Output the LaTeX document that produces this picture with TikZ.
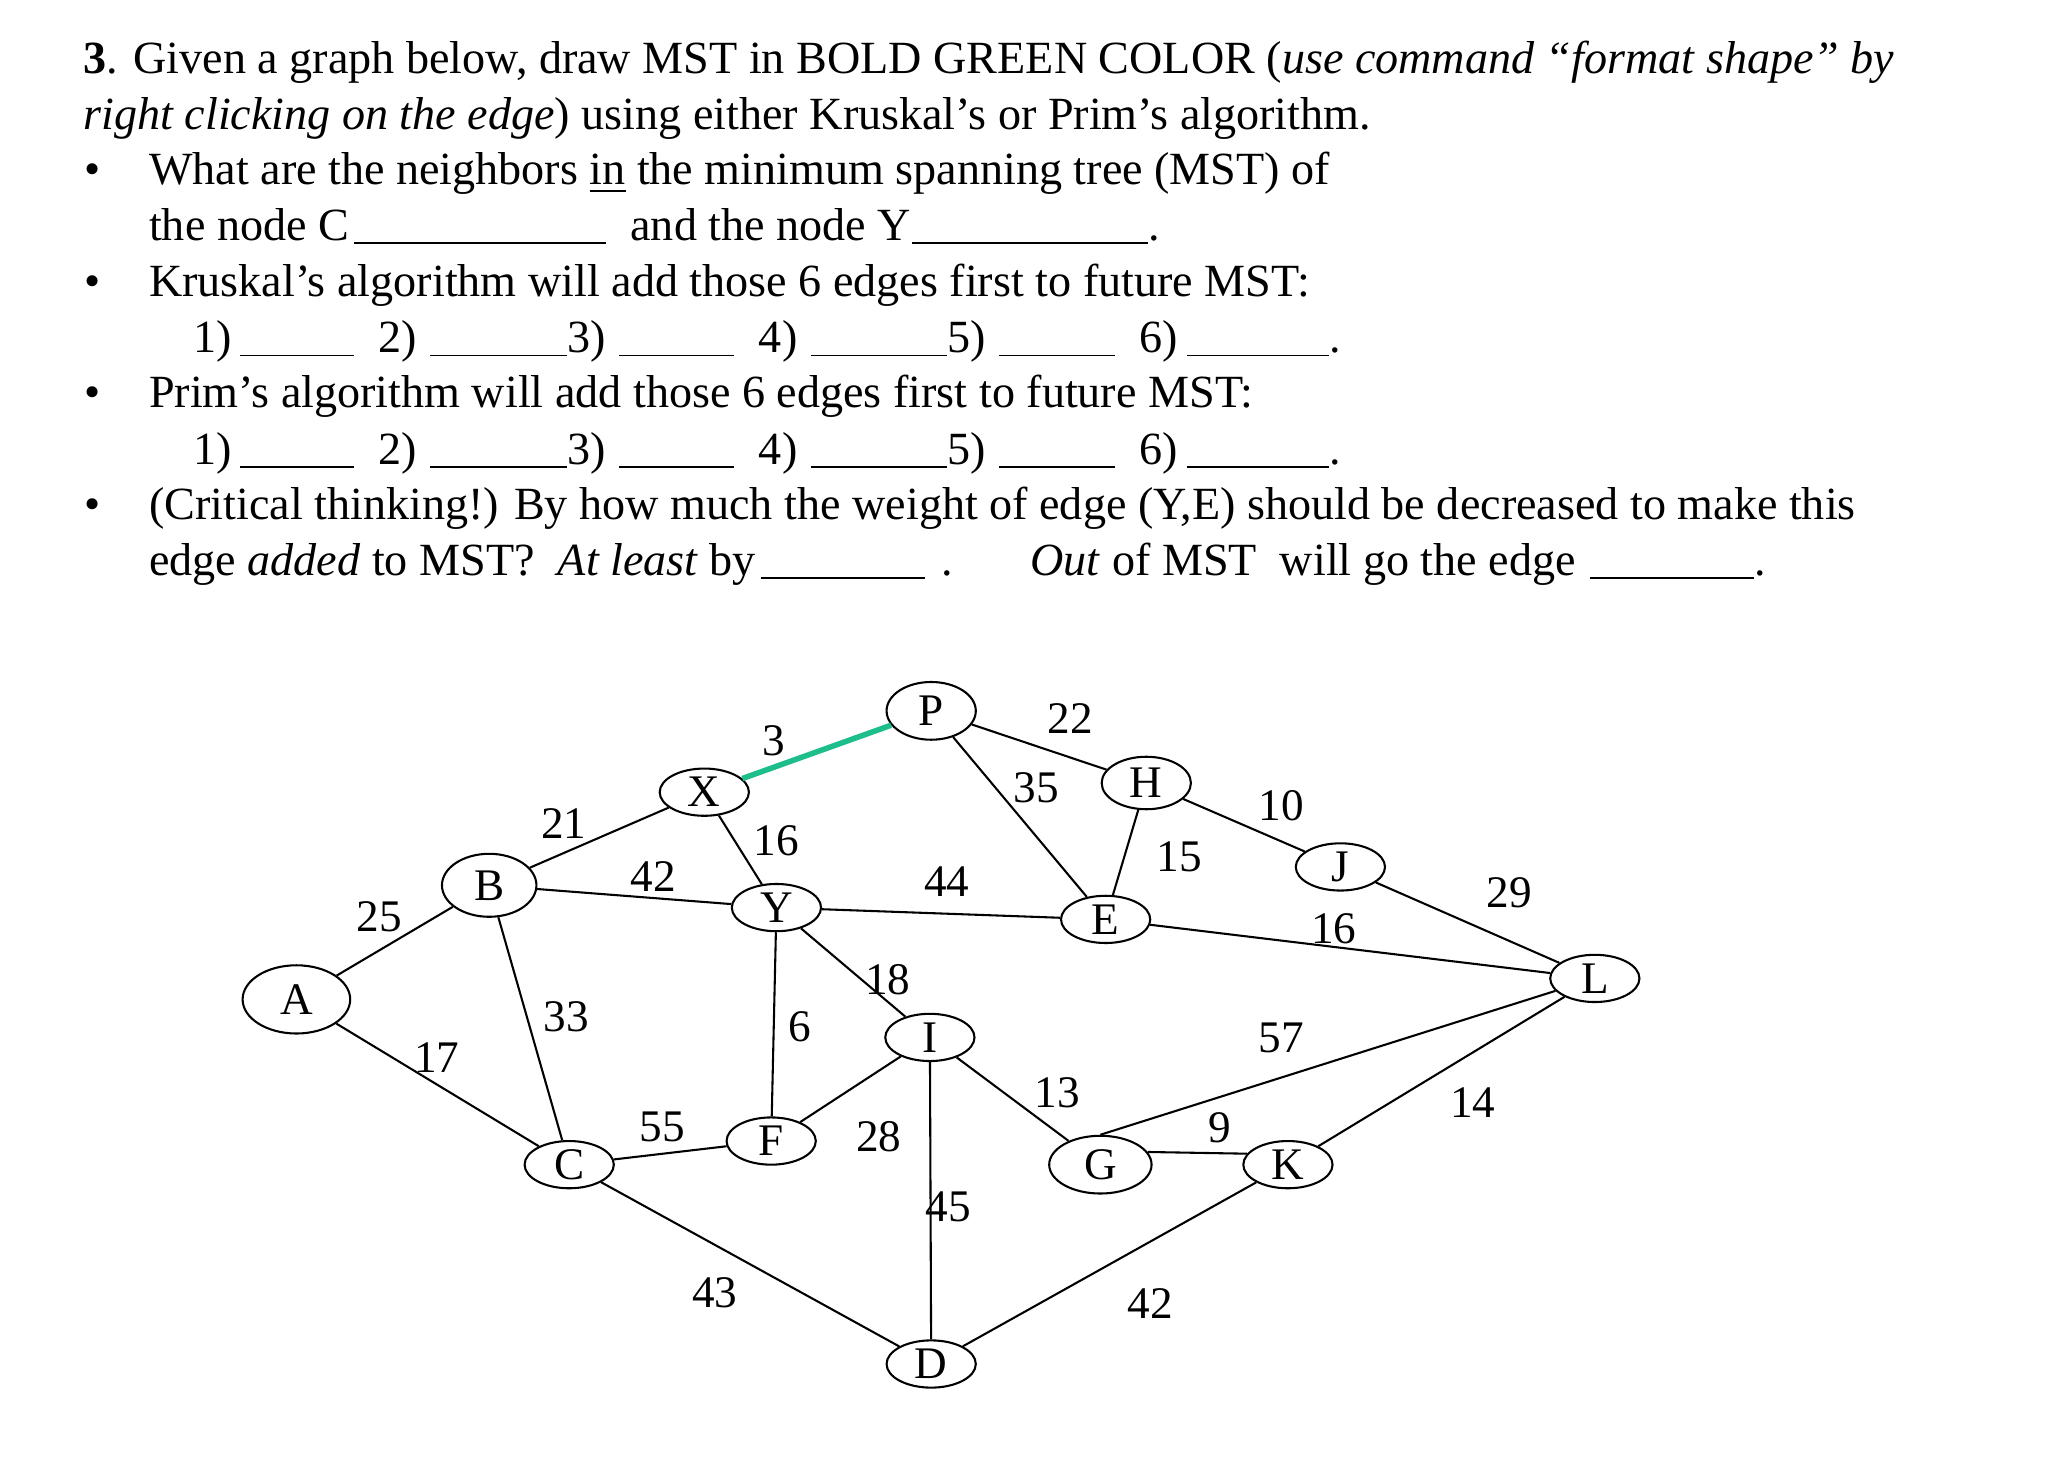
\documentclass[tikz,border=0pt]{standalone}
\usepackage{fontspec}
\setmainfont{Liberation Serif}
\usetikzlibrary{shapes.geometric}
\begin{document}
\begin{tikzpicture}[x=0.01cm,y=-0.01cm,
  txt/.style={anchor=base west,inner sep=0,font=\fontsize{10}{12}\selectfont},
  vtx/.style={draw,ellipse,line width=0.45pt,minimum width=0.68cm,minimum height=0.36cm,inner sep=0,font=\fontsize{9.8}{12}\selectfont},
  wl/.style={inner sep=0,font=\fontsize{9.8}{12}\selectfont},
  edge/.style={line width=0.45pt},
  blank/.style={line width=0.4pt}]
\useasboundingbox (0,0) rectangle (1560,1124);
% text
\node[txt] (t1) at (63,56) {\textbf{3}. Given a graph below, draw MST in BOLD GREEN COLOR (\textit{use command “format shape” by}};
\node[txt] (t2) at (63,99) {\textit{right clicking on the edge}) using either Kruskal’s or Prim’s algorithm.};
\foreach \yy/\nm in {141/b1,226/b2,311/b3,396/b4} \node[txt] (\nm) at (64,\yy) {•};
\node[txt] (t3) at (113,141) {What are the neighbors \underline{in} the minimum spanning tree (MST) of};
\node[txt] (t4) at (113,183) {the node C};
\draw[blank] (270,185) -- (462,185);
\node[txt] (t4b) at (480,183) {and the node Y};
\draw[blank] (695,185) -- (875,185);
\node[txt] (t4c) at (875,183) {.};
\node[txt] (t5) at (113,226) {Kruskal’s algorithm will add those 6 edges first to future MST:};
\node[txt] (t7) at (113,311) {Prim’s algorithm will add those 6 edges first to future MST:};
\foreach \yy/\k in {269/a,354/b}{
  \node[txt] (n1\k) at (147,\yy) {1)};
  \draw[blank] (183,\yy+2) -- (270,\yy+2);
  \node[txt] (n2\k) at (288,\yy) {2)};
  \draw[blank] (328,\yy+2) -- (432,\yy+2);
  \node[txt] (n3\k) at (432,\yy) {3)};
  \draw[blank] (472,\yy+2) -- (560,\yy+2);
  \node[txt] (n4\k) at (578,\yy) {4)};
  \draw[blank] (618,\yy+2) -- (722,\yy+2);
  \node[txt] (n5\k) at (722,\yy) {5)};
  \draw[blank] (762,\yy+2) -- (850,\yy+2);
  \node[txt] (n6\k) at (868,\yy) {6)};
  \draw[blank] (905,\yy+2) -- (1013,\yy+2);
  \node[txt] (n7\k) at (1013,\yy) {.};
}
\node[txt] (t9) at (113,396) {(Critical thinking!) By how much the weight of edge (Y,E) should be decreased to make this};
\node[txt] (t10) at (113,439) {edge \textit{added} to MST?\ \ \textit{At least} by};
\draw[blank] (580,441) -- (705,441);
\node[txt] (t10b) at (717,439) {.};
\node[txt] (t10c) at (785,439) {\textit{Out} of MST\ \ will go the edge};
\draw[blank] (1212,441) -- (1337,441);
\node[txt] (t10d) at (1337,439) {.};
% vertices
\node[vtx,minimum height=0.44cm] (P) at (710,542) {P};
\node[vtx] (X) at (537,604) {X};
\node[vtx,minimum height=0.40cm] (H) at (874,597) {H};
\node[vtx,minimum width=0.72cm,minimum height=0.48cm] (B) at (373,675) {B};
\node[vtx] (Y) at (592,692) {Y};
\node[vtx] (E) at (843,701) {E};
\node[vtx] (J) at (1022,661) {J};
\node[vtx,minimum width=0.82cm,minimum height=0.52cm] (A) at (226,762) {A};
\node[vtx] (L) at (1216,746) {L};
\node[vtx] (I) at (709,791) {I};
\node[vtx] (F) at (588,870) {F};
\node[vtx] (C) at (434,888) {C};
\node[vtx,minimum width=0.78cm,minimum height=0.44cm] (G) at (839,888) {G};
\node[vtx] (K) at (982,888) {K};
\node[vtx] (D) at (710,1040) {D};
% edges
\foreach \a/\b in {A/B,A/C,B/X,B/Y,B/C,X/Y,P/H,P/E,H/E,H/J,Y/E,Y/I,Y/F,E/L,J/L,I/F,I/G,I/D,C/F,C/D,K/L,K/D}
  \draw[edge] (\a) -- (\b);
\draw[edge] (G.north) -- (L);
\draw[edge] (G.15) -- (K.165);
\draw[line width=1.2pt,color={rgb,255:red,30;green,190;blue,140}] (X) -- (P);
% weights
\foreach \x/\y/\w/\n in {590/565/3/w1,816/548/22/w2,790/601/35/w3,430/628/21/w4,592/641/16/w5,977/614/10/w6,899/653/15/w7,498/668/42/w8,722/672/44/w9,1151/681/29/w10,289/699/25/w11,1017/708/16/w12,677/747/18/w13,432/775/33/w14,610/783/6/w15,977/791/57/w16,333/806/17/w17,806/833/13/w18,1123/841/14/w19,505/859/55/w20,670/867/28/w21,930/860/9/w22,723/920/45/w23,545/986/43/w24,877/994/42/w25}
  \node[wl] (\n) at (\x,\y) {\w};
\end{tikzpicture}
\end{document}
